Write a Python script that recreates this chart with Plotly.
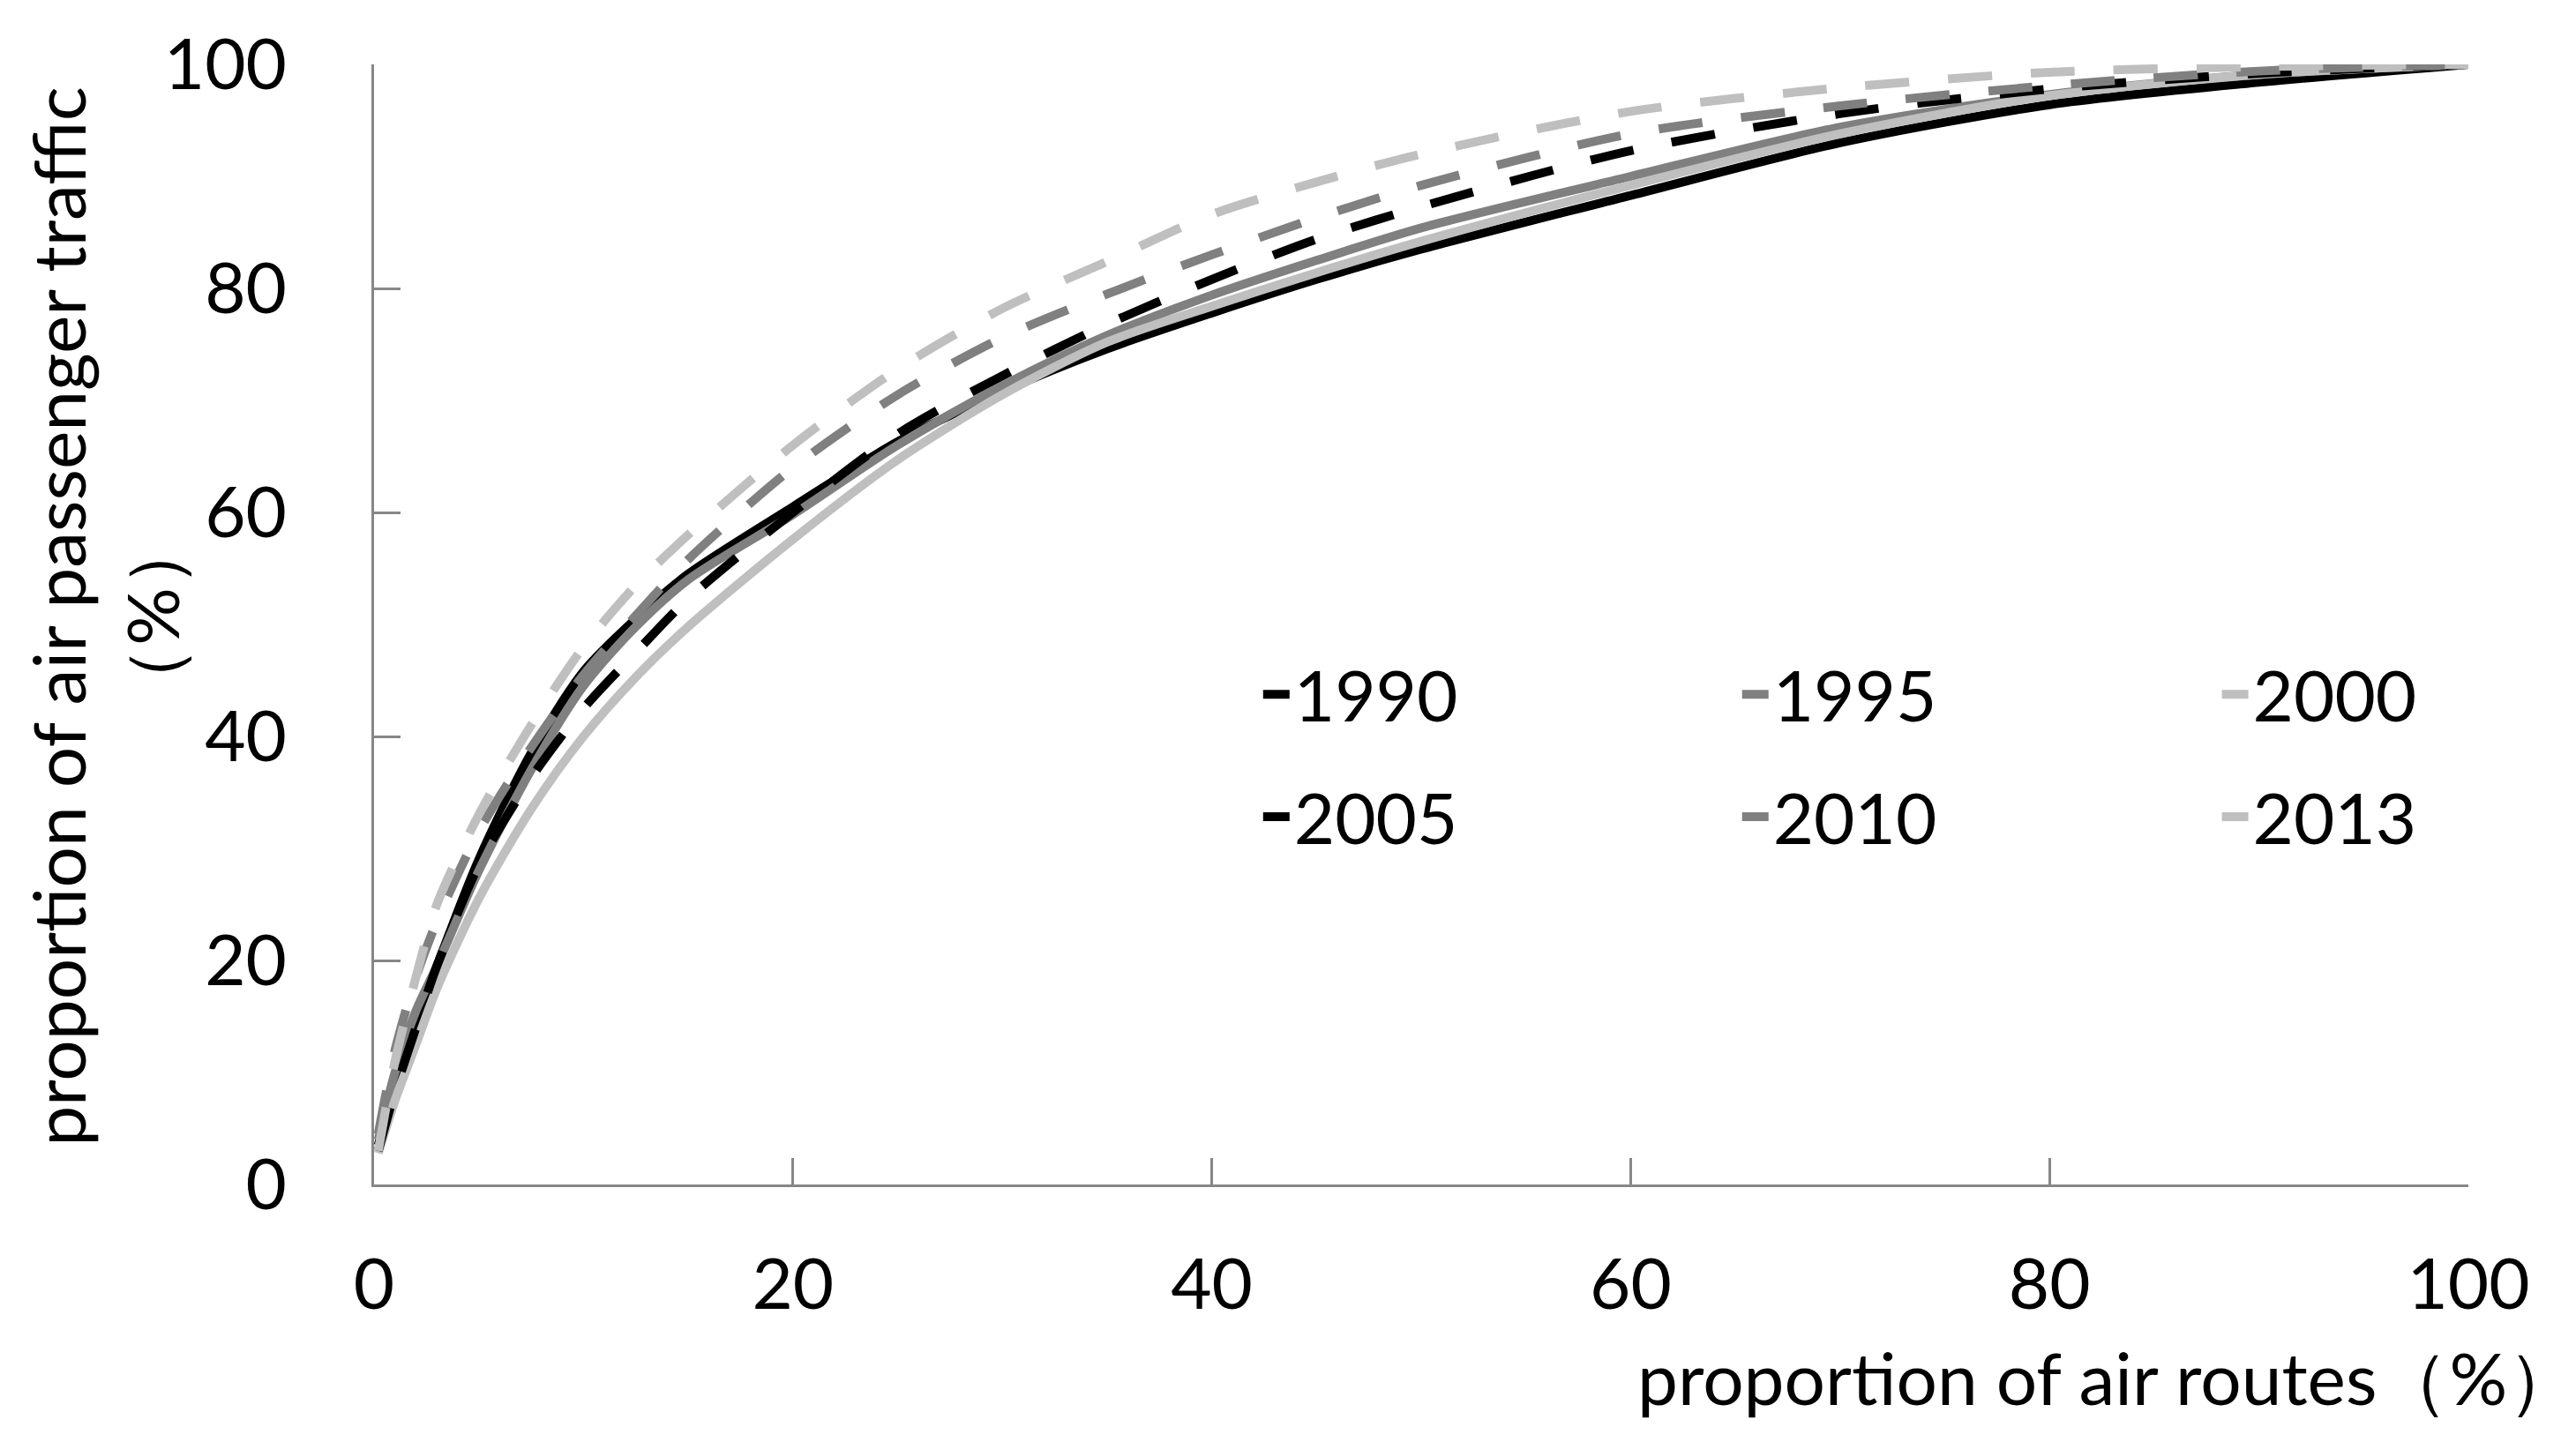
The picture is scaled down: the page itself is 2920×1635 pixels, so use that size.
import plotly.graph_objects as go

# share of routes (%) and cumulative share of passenger traffic (%) per year
routes = [0.2, 1, 2, 3, 5, 7.5, 10, 12.5, 15, 20, 25, 30, 35, 40, 45, 50, 60, 70, 80, 90, 100]

traffic_1990 = [3.5, 9, 14.5, 19.5, 29, 38.5, 45.8, 50.5, 54.5, 60.5, 66.3, 70.8, 74.6, 77.8, 80.8, 83.5, 88.3, 93.0, 96.4, 98.4, 100]
traffic_1995 = [4, 10, 15.5, 19.5, 28, 37, 44.5, 49.8, 54, 59.8, 66, 71.3, 75.8, 79.4, 82.5, 85.4, 90, 94.4, 97.3, 99.1, 100]
traffic_2000 = [2.8, 7.5, 12.5, 17.5, 25.5, 33.5, 40, 45.3, 49.8, 57.6, 64.7, 70.5, 75.2, 78.4, 81.4, 84.2, 89.2, 93.8, 97.2, 99.1, 100]
traffic_2005 = [3, 8.3, 14, 19.5, 28.5, 36.3, 42.5, 47.5, 52.3, 60, 67, 72.2, 76.8, 80.8, 84.4, 87.3, 92.3, 95.6, 97.8, 99.2, 100]
traffic_2010 = [4.5, 12, 18.5, 23.5, 31.5, 39, 45.5, 50.8, 55.8, 64, 70.5, 75.6, 79.5, 83, 86.3, 89.2, 93.8, 96.3, 98.1, 99.4, 100]
traffic_2013 = [3, 11, 18.5, 25, 33, 41, 48, 53.5, 58, 66, 72.8, 78.2, 82.4, 86.6, 89.5, 92, 95.8, 97.9, 99.3, 99.8, 100]

years = ["1990", "1995", "2000", "2005", "2010", "2013"]
series = [traffic_1990, traffic_1995, traffic_2000, traffic_2005, traffic_2010, traffic_2013]
colors = ["#000000", "#808080", "#bfbfbf", "#000000", "#808080", "#bfbfbf"]
dashes = ["solid", "solid", "solid", "50px,44px", "50px,44px", "50px,44px"]

FONT = "Lato"
AXIS = "#878787"

# one legend box per entry, laid out as 3 columns x 2 rows inside the plot
legend_x = [0.4224, 0.6511, 0.8802]
legend_y = [0.4376, 0.3283]

fig = go.Figure()
for i, (name, ys, c, d) in enumerate(zip(years, series, colors, dashes)):
    fig.add_trace(go.Scatter(
        x=routes, y=ys, name=name, mode="lines", showlegend=True,
        line=dict(color=c, width=10, dash=d, shape="spline", smoothing=0.8),
        legend="legend" if i == 0 else f"legend{i + 1}",
    ))

axis_style = dict(
    range=[0, 100], dtick=20, showgrid=False, zeroline=False,
    showline=True, linecolor=AXIS, linewidth=3,
    ticks="inside", ticklen=30, tickwidth=3, tickcolor=AXIS,
    tickfont=dict(family=FONT, size=80, color="black"),
)
fig.update_xaxes(**axis_style, ticklabelstandoff=42)
fig.update_yaxes(**axis_style, ticklabelstandoff=80)

fig.add_annotation(
    text="proportion of air routes（%）", xref="paper", yref="paper",
    x=1.054, y=-0.172, xanchor="right", yanchor="middle", showarrow=False,
    font=dict(family=FONT, size=82, color="black"),
)
fig.add_annotation(
    text="proportion of air passenger traffic<br>（%）", xref="paper", yref="paper",
    x=-0.129, y=0.507, xanchor="center", yanchor="middle", textangle=-90,
    showarrow=False, font=dict(family=FONT, size=82, color="black"),
)

legends = {}
for i in range(len(years)):
    key = "legend" if i == 0 else f"legend{i + 1}"
    legends[key] = dict(
        x=legend_x[i % 3], y=legend_y[i // 3], xanchor="left", yanchor="middle",
        bgcolor="rgba(0,0,0,0)", font=dict(family=FONT, size=80, color="black"),
    )

fig.update_layout(
    width=2920, height=1635, showlegend=True,
    margin=dict(l=416, r=130, t=65, b=300),
    plot_bgcolor="white", paper_bgcolor="white",
    **legends,
)

fig.write_html("out.html")
